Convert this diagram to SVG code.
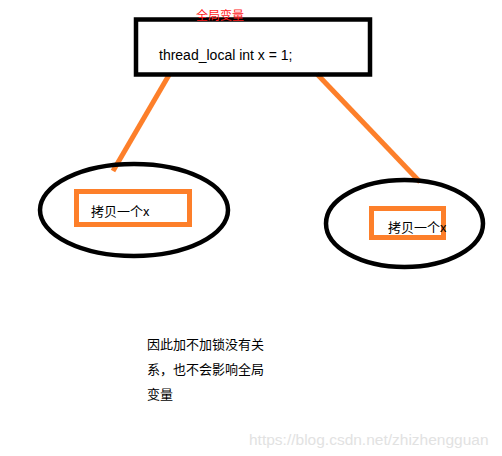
<svg xmlns="http://www.w3.org/2000/svg" width="502" height="456" viewBox="0 0 502 456">
<style>
.blk{fill:none;stroke:#000;stroke-width:4.5}
.org{fill:none;stroke:#fd7f2a;stroke-width:5}
.conn{stroke:#fd7f2a;stroke-width:5;stroke-linecap:butt}
.t{font-family:"Liberation Sans","Noto Sans CJK SC",sans-serif;font-size:13px;fill:#000}
.cjk{font-family:"Noto Sans CJK SC","Liberation Sans",sans-serif;font-size:13px;fill:#000}
</style>
<rect width="502" height="456" fill="#fff"/>
<g id="connectors">
<line class="conn" x1="169" y1="75" x2="113" y2="171"/>
<line class="conn" x1="317" y1="74" x2="420" y2="182"/>
</g>
<g id="global">
<rect class="blk" x="136" y="19.5" width="234" height="55" stroke-width="5"/>
<text x="196" y="20" style="font-family:'Noto Sans CJK SC',sans-serif;font-size:12px;fill:#ff1a1a">全局变量</text>
<text class="t" x="159" y="60" style="font-size:14px">thread_local int x = 1;</text>
</g>
<g id="copy-left">
<ellipse class="blk" cx="134" cy="210" rx="94" ry="46"/>
<rect class="org" x="76.5" y="191.5" width="113" height="33"/>
<text class="cjk" x="91" y="216">拷贝一个x</text>
</g>
<g id="copy-right">
<ellipse class="blk" cx="404.5" cy="223.5" rx="78.5" ry="43.5"/>
<rect class="org" x="371.5" y="208.5" width="72" height="29"/>
<text class="cjk" x="388" y="232">拷贝一个x</text>
</g>
<g id="note">
<text class="cjk" x="147" y="349">因此加不加锁没有关</text>
<text class="cjk" x="147" y="374">系，也不会影响全局</text>
<text class="cjk" x="147" y="399">变量</text>
</g>
<text x="249" y="445" style="font-family:'Liberation Sans',sans-serif;font-size:15.5px;fill:#e2e2e2">https://blog.csdn.net/zhizhengguan</text>
</svg>
